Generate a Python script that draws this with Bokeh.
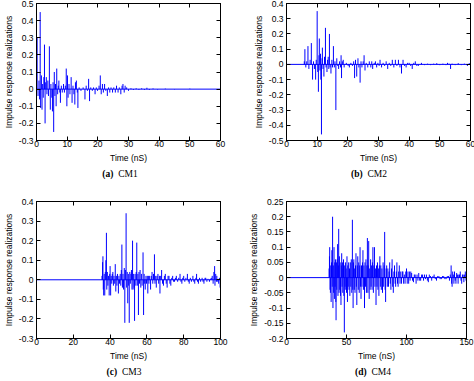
from bokeh.plotting import figure
from bokeh.models import (Range1d, FixedTicker, LinearAxis, Div, ColumnDataSource,
                          CustomLabelingPolicy)
from bokeh.layouts import column, row
from bokeh.embed import file_html
from bokeh.resources import INLINE

# ---------------- data: (time ns, amplitude) ----------------
cm1 = [(0.2,0.30),(0.5,-0.04),(0.8,0.05),(1.0,-0.06),(1.2,0.45),(1.35,-0.11),(1.6,0.08),(1.8,-0.12),
       (2.0,0.03),(2.2,-0.05),(2.4,0.07),(2.6,0.26),(2.8,-0.20),(3.0,0.04),(3.2,0.07),(3.4,-0.03),
       (3.7,0.05),(3.9,-0.04),(4.2,0.25),(4.5,-0.12),(4.7,0.03),(5.0,-0.05),(5.2,-0.13),(5.4,0.04),
       (5.6,-0.25),(5.8,0.10),(6.0,-0.04),(6.2,0.03),(6.4,-0.10),(6.6,0.12),(6.9,-0.03),(7.1,0.02),
       (7.3,0.05),(7.6,-0.02),(7.8,-0.08),(8.1,0.02),(8.4,-0.02),(8.8,0.03),(9.1,-0.02),(9.4,0.02),
       (9.7,0.12),(9.9,-0.10),(10.1,0.08),(10.3,-0.05),(10.6,0.03),(10.9,-0.03),(11.3,0.07),(11.6,-0.08),
       (11.9,0.02),(12.2,-0.03),(12.5,-0.09),(12.7,0.04),(13.0,0.05),(13.3,-0.02),(13.5,-0.11),(13.9,0.01),
       (14.5,-0.01),(15.2,0.01),(15.8,-0.06),(16.2,0.02),(16.6,-0.01),(17.0,0.06),(17.3,-0.07),(17.7,0.01),
       (18.2,-0.01),(18.6,0.01),(19.1,-0.03),(19.5,0.01),(19.9,-0.01),(20.4,0.02),(20.8,0.08),(21.1,-0.03),
       (21.5,0.03),(21.8,-0.02),(22.2,0.03),(22.6,-0.01),(23.1,-0.04),(23.5,0.01),(23.9,-0.02),(24.3,0.01),
       (24.8,-0.02),(25.2,0.01),(25.7,-0.02),(26.1,0.02),(26.6,-0.02),(27.0,0.01),(27.5,-0.03),(27.9,0.02),
       (28.2,0.03),(28.6,-0.02),(28.9,0.02),(29.4,0.01),(30.0,-0.01),(30.8,0.005),(31.6,-0.005),(32.5,0.005),
       (33.4,-0.005),(34.3,0.005),(35.2,-0.005),(36.0,0.008),(36.8,-0.005),(38.0,0.004),(39.5,-0.003),
       (42.0,0.003),(45.0,-0.002),(50.0,0.003)]

cm2 = [(5.8,0.02),(6.0,0.10),(6.3,-0.02),(6.6,0.02),(7.0,0.12),(7.3,-0.03),(7.7,0.03),(8.1,0.14),
       (8.5,-0.10),(8.8,0.02),(9.1,-0.03),(9.5,-0.10),(9.7,0.03),(10.0,0.35),(10.2,-0.05),(10.4,-0.18),
       (10.6,0.06),(10.7,0.17),(10.9,-0.04),(11.1,0.07),(11.2,-0.10),(11.4,-0.46),(11.6,0.04),(11.7,0.11),
       (11.9,-0.03),(12.2,-0.08),(12.4,0.05),(12.7,0.24),(12.9,-0.02),(13.2,-0.05),(13.4,0.03),(13.6,0.05),
       (13.8,-0.03),(14.0,0.20),(14.2,-0.02),(14.5,-0.06),(14.8,0.03),(15.0,-0.02),(15.3,0.12),(15.6,-0.02),
       (15.8,0.02),(16.1,-0.30),(16.4,0.04),(16.7,-0.01),(17.0,-0.03),(17.3,0.02),(17.6,-0.02),(17.8,0.06),
       (17.95,-0.09),(18.2,0.02),(18.5,0.03),(18.8,-0.02),(19.5,0.01),(20.1,-0.01),(20.5,-0.02),(21.0,0.01),
       (21.5,-0.01),(21.9,0.02),(22.2,-0.09),(22.5,0.03),(22.9,-0.08),(23.3,0.04),(23.6,-0.02),(24.0,-0.12),
       (24.3,0.02),(24.6,-0.02),(25.0,0.02),(25.3,0.06),(25.6,-0.04),(26.0,0.01),(26.5,-0.02),(27.0,0.02),
       (27.5,-0.02),(27.8,0.02),(28.1,-0.03),(28.6,0.01),(29.0,0.02),(29.4,-0.02),(29.8,0.01),(30.2,-0.01),
       (30.5,0.03),(31.0,-0.02),(31.5,0.01),(32.0,-0.01),(32.5,0.02),(33.0,-0.03),(33.5,0.01),(34.0,-0.01),
       (34.5,0.03),(35.0,-0.02),(35.5,0.03),(36.0,-0.01),(36.5,0.03),(37.0,-0.02),(37.5,-0.06),(38.0,0.03),
       (38.5,-0.01),(39.0,-0.02),(39.5,0.01),(40.0,0.01),(40.5,-0.01),(41.0,-0.03),(41.5,0.01),(42.0,0.02),
       (42.5,-0.01),(43.0,-0.01),(44.0,0.01),(45.0,-0.005),(46.0,0.005),(47.0,-0.005),(48.0,0.005),
       (49.0,0.008),(50.0,-0.005),(51.0,0.005),(52.0,-0.005),(52.5,0.01),(53.0,0.005),(53.5,-0.03),
       (54.0,0.005),(55.0,-0.005),(56.0,0.008),(57.0,-0.005),(58.0,0.005),(59.0,-0.01),(59.6,0.008)]

cm3 = [(35.6,0.02),(35.9,0.09),(36.1,0.12),(36.3,-0.05),(36.5,-0.08),(36.8,0.03),(37.1,-0.08),(37.4,0.04),
       (37.7,0.10),(38.0,0.24),(38.2,-0.05),(38.5,0.04),(38.8,-0.03),(39.1,0.02),(39.5,-0.08),(39.8,0.03),
       (40.0,0.07),(40.3,-0.08),(40.6,0.02),(40.9,-0.02),(41.2,0.03),(41.5,0.04),(41.8,-0.03),(42.1,0.02),
       (42.5,-0.02),(42.8,0.08),(43.1,-0.06),(43.4,0.02),(43.7,-0.03),(44.0,0.03),(44.5,-0.07),(44.8,0.02),
       (45.1,-0.02),(45.5,0.03),(45.8,-0.03),(46.1,0.05),(46.4,0.18),(46.7,-0.04),(47.0,0.03),(47.3,-0.05),
       (47.7,0.06),(48.0,-0.22),(48.3,0.05),(48.7,0.34),(49.0,-0.04),(49.3,0.04),(49.6,-0.12),(49.9,0.03),
       (50.1,-0.03),(50.4,-0.22),(50.7,0.04),(51.0,-0.02),(51.3,0.03),(51.6,0.05),(51.9,-0.05),(52.2,0.20),
       (52.5,-0.05),(52.8,0.03),(53.1,-0.04),(53.3,-0.21),(53.6,0.03),(54.0,-0.03),(54.2,0.04),(54.5,0.19),
       (54.8,-0.03),(55.1,0.03),(55.4,-0.18),(55.7,0.04),(56.0,-0.02),(56.3,0.05),(56.7,-0.04),(57.0,0.03),
       (57.4,-0.03),(57.9,0.14),(58.2,-0.18),(58.5,0.03),(58.8,-0.02),(59.1,-0.05),(59.5,0.02),(59.8,-0.02),
       (60.2,0.02),(60.5,-0.07),(60.8,0.02),(61.1,-0.02),(61.5,0.02),(62.0,-0.05),(62.4,0.02),(62.8,0.04),
       (63.2,-0.02),(63.6,0.03),(64.1,0.13),(64.4,-0.02),(64.8,0.02),(65.1,-0.04),(65.5,0.02),(66.0,0.03),
       (66.4,-0.02),(66.8,0.02),(67.1,-0.07),(67.5,0.02),(68.0,0.05),(68.5,-0.02),(69.0,-0.03),(69.5,0.02),
       (70.0,0.03),(70.5,-0.02),(71.0,-0.04),(71.5,0.02),(72.0,0.02),(72.5,-0.02),(73.0,-0.03),(73.5,0.01),
       (74.0,0.02),(74.5,-0.01),(75.0,-0.01),(75.5,0.01),(76.0,0.02),(76.7,-0.01),(77.3,0.01),(78.0,0.03),
       (78.5,-0.01),(79.0,-0.02),(79.5,0.01),(80.0,0.02),(80.6,-0.01),(81.2,0.01),(82.0,0.03),(82.5,-0.01),
       (83.0,-0.02),(83.6,0.01),(84.2,-0.01),(85.0,0.02),(85.5,-0.01),(86.0,-0.02),(86.6,0.01),(87.0,0.03),
       (87.5,-0.01),(88.0,-0.02),(88.6,0.01),(89.2,-0.01),(90.0,0.01),(90.5,-0.01),(91.0,-0.02),(91.6,0.01),
       (92.0,0.01),(92.6,-0.01),(93.2,0.005),(94.0,-0.01),(94.6,0.005),(95.0,0.01),(95.5,0.02),(96.0,-0.02),
       (96.4,0.04),(96.8,0.07),(97.0,-0.03),(97.4,0.03),(97.8,-0.01),(98.0,0.02),(98.5,-0.01),(99.0,-0.02),
       (99.4,0.01),(99.8,-0.04)]

cm4 = [(35.5,0.03),(35.8,0.07),(36.0,0.10),(36.3,-0.04),(36.6,-0.05),(36.9,0.04),(37.2,-0.08),(37.5,0.05),
       (37.8,0.09),(38.1,-0.03),(38.4,0.20),(38.7,-0.10),(39.0,0.04),(39.3,-0.05),(39.6,0.10),(39.9,-0.07),
       (40.2,0.05),(40.5,-0.03),(40.8,0.06),(41.1,-0.08),(41.3,-0.14),(41.6,0.05),(41.9,-0.04),(42.2,0.06),
       (42.6,0.11),(42.9,-0.06),(43.2,0.04),(43.5,0.16),(43.8,-0.05),(44.1,0.07),(44.4,-0.04),(44.7,0.05),
       (45.0,-0.06),(45.4,-0.09),(45.7,0.04),(46.0,0.08),(46.3,-0.03),(46.6,0.05),(46.9,-0.05),(47.2,0.03),
       (47.5,0.06),(47.8,-0.06),(48.2,-0.18),(48.5,0.04),(48.8,-0.03),(49.1,0.05),(49.4,-0.04),(49.7,0.03),
       (50.0,-0.05),(50.4,0.07),(50.8,-0.08),(51.1,0.04),(51.4,-0.03),(51.8,0.05),(52.1,-0.04),(52.5,0.03),
       (52.8,-0.06),(53.2,0.05),(53.6,-0.03),(54.0,0.06),(54.4,-0.05),(54.9,0.19),(55.2,-0.04),(55.5,-0.10),
       (55.8,0.05),(56.1,0.06),(56.5,-0.04),(56.8,0.03),(57.1,-0.05),(57.5,0.04),(57.9,0.08),(58.2,-0.03),
       (58.6,-0.09),(59.0,0.04),(59.4,0.07),(59.8,-0.04),(60.2,0.05),(60.6,-0.05),(61.0,0.04),(61.3,0.10),
       (61.7,-0.03),(62.1,-0.07),(62.5,0.04),(62.9,-0.03),(63.3,0.05),(63.7,0.09),(64.1,-0.04),(64.5,0.04),
       (65.0,-0.10),(65.4,0.05),(65.8,-0.03),(66.2,0.06),(66.6,-0.05),(67.0,0.04),(67.4,0.13),(67.8,-0.05),
       (68.1,0.04),(68.5,0.12),(68.9,-0.07),(69.3,0.03),(69.7,-0.04),(70.1,0.06),(70.5,-0.03),(70.9,0.04),
       (71.3,-0.04),(71.6,0.05),(72.0,0.10),(72.4,-0.05),(72.8,0.04),(73.3,0.10),(73.7,-0.03),(74.1,0.03),
       (74.6,-0.09),(75.0,0.04),(75.4,-0.03),(75.8,0.05),(76.2,-0.04),(76.6,0.03),(77.0,-0.06),(77.4,0.04),
       (77.8,0.07),(78.2,-0.03),(78.6,0.04),(79.0,-0.04),(79.5,0.03),(80.0,-0.05),(80.5,0.05),(81.0,-0.03),
       (81.4,0.04),(81.8,0.15),(82.2,-0.04),(82.6,-0.08),(83.0,0.03),(83.5,0.04),(84.0,-0.03),(84.5,0.03),
       (85.0,-0.03),(85.5,0.02),(86.0,0.05),(86.5,-0.02),(87.0,-0.04),(87.5,0.03),(88.0,0.06),(88.5,-0.03),
       (89.0,-0.05),(89.5,0.02),(90.0,0.04),(90.5,-0.02),(91.0,-0.03),(91.5,0.02),(92.0,0.05),(92.5,-0.02),
       (93.0,-0.03),(93.5,0.02),(94.0,0.04),(94.6,-0.02),(95.2,0.02),(95.8,-0.02),(96.5,0.02),(97.0,0.02),
       (97.6,-0.02),(98.2,0.01),(98.8,-0.02),(99.4,0.02),(100.0,0.03),(100.6,-0.02),(101.2,0.02),(101.8,-0.02),
       (102.4,0.02),(103.0,-0.01),(103.6,0.02),(104.3,0.015),(105.0,-0.01),(105.8,-0.015),(106.5,0.01),
       (107.2,0.01),(108.0,-0.02),(108.8,0.01),(109.5,-0.01),(110.2,0.015),(111.0,-0.01),(111.8,-0.01),
       (112.6,0.01),(113.4,0.01),(114.2,-0.01),(115.0,0.01),(115.8,-0.005),(116.6,0.01),(117.4,-0.01),
       (118.2,-0.015),(119.0,0.01),(120.0,0.005),(121.0,-0.01),(122.0,0.005),(123.0,0.01),(124.0,-0.005),
       (125.0,-0.01),(126.0,0.005),(127.0,0.005),(128.0,-0.005),(129.0,-0.005),(130.0,0.005),(131.0,0.005),
       (132.0,-0.005),(133.0,-0.005),(134.0,0.005),(135.0,0.005),(135.8,-0.01),(136.5,0.01),(137.2,0.04),
       (137.6,-0.02),(138.0,-0.03),(138.5,0.02),(139.0,0.01),(139.5,-0.02),(140.0,0.02),(140.6,-0.01),
       (141.2,-0.02),(141.8,0.015),(142.4,0.01),(143.0,-0.02),(143.6,0.01),(144.2,0.01),(144.8,0.02),
       (145.4,-0.01),(146.0,-0.02),(146.6,0.01),(147.2,0.01),(147.8,-0.015),(148.4,0.01),(149.0,0.02),
       (149.6,-0.01)]

# observation windows (ns)
span1 = [0, 60]
span2 = [0, 60]
span3 = [0, 100]
span4 = [0, 150]

# ticks and labels
xt1 = [0, 10, 20, 30, 40, 50, 60]
xt2 = [0, 10, 20, 30, 40, 50, 60]
xt3 = [0, 20, 40, 60, 80, 100]
xt4 = [0, 50, 100, 150]
yt1 = [-0.3, -0.2, -0.1, 0, 0.1, 0.2, 0.3, 0.4, 0.5]
yl1 = ["-0.3", "-0.2", "-0.1", "0", "0.1", "0.2", "0.3", "0.4", "0.5"]
yt2 = [-0.5, -0.4, -0.3, -0.2, -0.1, 0, 0.1, 0.2, 0.3, 0.4]
yl2 = ["-0.5", "-0.4", "-0.3", "-0.2", "-0.1", "0", "0.1", "0.2", "0.3", "0.4"]
yt3 = [-0.3, -0.2, -0.1, 0, 0.1, 0.2, 0.3, 0.4]
yl3 = ["-0.3", "-0.2", "-0.1", "0", "0.1", "0.2", "0.3", "0.4"]
yt4 = [-0.2, -0.15, -0.1, -0.05, 0, 0.05, 0.1, 0.15, 0.2, 0.25]
yl4 = ["-0.2", "-0.15", "-0.1", "-0.05", "0", "0.05", "0.1", "0.15", "0.2", "0.25"]

captions = [("a", "CM1"), ("b", "CM2"), ("c", "CM3"), ("d", "CM4")]
xlabel = "Time (nS)"
ylabel = "Impulse response realizations"

# ---------------- styling ----------------
BLUE = "#0000ff"
FONT = "Liberation Sans"
SERIF = "Liberation Serif"
FH = 137
LEFTW = 238
RIGHTW = 228


def style_axis(ax, ticks, overrides=None, labels=True, standoff=1):
    ax.ticker = FixedTicker(ticks=ticks)
    ax.minor_tick_line_color = None
    ax.major_tick_in = 4
    ax.major_tick_out = 0
    ax.axis_line_color = "black"
    ax.major_tick_line_color = "black"
    ax.major_label_text_font = FONT
    ax.major_label_text_color = "black"
    if labels:
        ax.major_label_text_font_size = "8.5px"
        ax.major_label_standoff = standoff
        if overrides:
            ax.major_label_overrides = overrides
    else:
        # tick marks only: no label is drawn
        ax.major_label_text_font_size = "0px"
        ax.major_label_standoff = 0
        ax.major_label_policy = CustomLabelingPolicy(code="")


def panel(pairs, span, xt, yt, yl, lb, fw, rb, tb):
    t = [q[0] for q in pairs]
    h = [q[1] for q in pairs]
    p = figure(frame_width=fw, frame_height=FH,
               min_border_left=lb, min_border_right=rb, min_border_top=tb, min_border_bottom=0,
               x_range=Range1d(span[0], span[1]), y_range=Range1d(yt[0], yt[-1]),
               output_backend="svg", toolbar_location=None, tools="")
    p.grid.visible = False
    p.outline_line_color = "black"
    p.outline_line_width = 1
    p.background_fill_color = "white"
    p.border_fill_color = "white"

    p.line(x=span, y=[0, 0], line_color=BLUE, line_width=1.0)
    src = ColumnDataSource(dict(t=t, h=h, z=[0.0] * len(t)))
    p.segment(x0="t", y0="z", x1="t", y1="h", source=src, line_color=BLUE, line_width=1.0)

    style_axis(p.xaxis[0], xt, standoff=0)
    style_axis(p.yaxis[0], yt, {v: s for v, s in zip(yt, yl)}, standoff=3)
    p.xaxis[0].axis_label = xlabel
    p.yaxis[0].axis_label = ylabel
    for ax in (p.xaxis[0], p.yaxis[0]):
        ax.axis_label_text_font = FONT
        ax.axis_label_text_font_size = "8.5px"
        ax.axis_label_text_font_style = "normal"
        ax.axis_label_text_color = "black"
    p.xaxis[0].axis_label_standoff = 3
    p.yaxis[0].axis_label_standoff = 2

    top = LinearAxis()
    style_axis(top, xt, labels=False)
    p.add_layout(top, "above")
    right = LinearAxis()
    style_axis(right, yt, labels=False)
    p.add_layout(right, "right")
    return p


def caption(letter, name, lb, fw, width, height):
    html = ('<div style="width:%dpx;margin-left:%dpx;text-align:center;'
            'font-family:\'%s\',serif;font-size:9.5px;line-height:%dpx;color:#000;white-space:nowrap">'
            '<b>(%s)</b>&nbsp;&nbsp;%s</div>') % (fw, lb, SERIF, height, letter, name)
    return Div(text=html, width=width, height=height, margin=0)


pa = panel(cm1, span1, xt1, yt1, yl1, 28, 184, LEFTW - 28 - 184, 3)
pb = panel(cm2, span2, xt2, yt2, yl2, 31, 184, RIGHTW - 31 - 184, 3)
pc = panel(cm3, span3, xt3, yt3, yl3, 32, 184, LEFTW - 32 - 184, 18)
pd = panel(cm4, span4, xt4, yt4, yl4, 37, 180, RIGHTW - 37 - 180, 18)

ca = caption(captions[0][0], captions[0][1], 28, 184, LEFTW, 18)
cb = caption(captions[1][0], captions[1][1], 31, 184, RIGHTW, 18)
cc = caption(captions[2][0], captions[2][1], 32, 184, LEFTW, 14)
cd = caption(captions[3][0], captions[3][1], 37, 180, RIGHTW, 14)

left = column(pa, ca, pc, cc, spacing=0)
right_col = column(pb, cb, pd, cd, spacing=0)
root = row(left, right_col, spacing=0)

open("out.html", "w").write(file_html(root, INLINE))
